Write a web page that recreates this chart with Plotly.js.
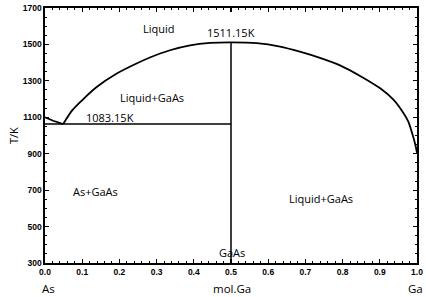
<!DOCTYPE html>
<html>
<head>
<meta charset="utf-8">
<script src="https://cdn.plot.ly/plotly-3.0.1.min.js"></script>
<style>html,body{margin:0;padding:0;background:#fff;}#chart{width:426px;height:297px;}</style>
</head>
<body>
<div id="chart"></div>
<script>
// As-rich liquidus branch (from x=0 to the eutectic)
var asSideX = [0, 0.022, 0.049];
var asSideT = [1100, 1081, 1063];
// Main GaAs liquidus
var liqX = [0.049, 0.072, 0.099, 0.139, 0.193, 0.246, 0.282, 0.336, 0.390, 0.444, 0.5, 0.569, 0.632, 0.685, 0.739, 0.793, 0.847, 0.901, 0.936, 0.963, 0.977, 0.988, 0.996, 1.0];
var liqT = [1063, 1135, 1192, 1266, 1340, 1395, 1428, 1468, 1495, 1508, 1511, 1507, 1488, 1460, 1426, 1385, 1327, 1259, 1198, 1125, 1075, 1005, 945, 905];
// GaAs compound line and eutectic line
var compX = [0.5, 0.5];
var compT = [300, 1511];
var eutX = [0, 0.5];
var eutT = [1063, 1063];

// Region labels
var labelText = ["Liquid", "1511.15K", "Liquid+GaAs", "1083.15K", "As+GaAs", "Liquid+GaAs", "GaAs"];
var labelX = [0.306, 0.501, 0.288, 0.175, 0.136, 0.741, 0.502];
var labelT = [1589, 1566, 1207, 1100, 692, 656, 355];

var lineStyle = {color: '#000', width: 1.8};
var traces = [
  {x: asSideX, y: asSideT, mode: 'lines', line: lineStyle, hoverinfo: 'skip'},
  {x: liqX, y: liqT, mode: 'lines', line: Object.assign({shape: 'spline', smoothing: 0.8}, lineStyle), hoverinfo: 'skip'},
  {x: compX, y: compT, mode: 'lines', line: {color: '#000', width: 1.5}, hoverinfo: 'skip'},
  {x: eutX, y: eutT, mode: 'lines', line: {color: '#000', width: 1.5}, hoverinfo: 'skip'}
];

// plot area in pixels: x 45..417, y 8..263
function px2paperX(px) { return (px - 45) / 372; }
function px2paperY(py) { return (263 - py) / 255; }

var txtFont = {family: 'Open Sans, Noto Sans, sans-serif', size: 11, color: '#000'};
var annotations = labelText.map(function (t, i) {
  return {x: labelX[i], y: labelT[i], xref: 'x', yref: 'y', text: t, showarrow: false, font: txtFont};
});
var outFont = {family: 'Open Sans, sans-serif', size: 11.5, color: '#000'};
function outLabel(txt, px, py) {
  return {x: px2paperX(px), y: px2paperY(py), xref: 'paper', yref: 'paper', text: txt, showarrow: false,
          font: outFont, xanchor: 'center', yanchor: 'middle', borderpad: 0};
}
annotations.push(outLabel('As', 48.5, 288));
annotations.push(outLabel('mol.Ga', 231.5, 288));
annotations.push(outLabel('Ga', 415, 288));
annotations.push({x: px2paperX(13), y: px2paperY(136), xref: 'paper', yref: 'paper', text: 'T/K', textangle: -90, showarrow: false, font: {family: 'Open Sans, sans-serif', size: 11, color: '#000'}, xanchor: 'center', yanchor: 'middle', borderpad: 0});

var tickFont = {family: 'Liberation Sans, Arial, sans-serif', size: 8.5, color: '#000', weight: 'bold'};
var layout = {
  width: 426, height: 297,
  margin: {l: 45, r: 9, t: 8, b: 34},
  paper_bgcolor: '#fff', plot_bgcolor: '#fff',
  showlegend: false,
  xaxis: {
    range: [0, 1], dtick: 0.1, tick0: 0, tickformat: '.1f',
    ticks: 'inside', ticklen: 4, tickwidth: 1.2, tickcolor: '#000',
    minor: {dtick: 0.02, ticks: 'inside', ticklen: 2, tickwidth: 1, tickcolor: '#000'},
    showline: true, linecolor: '#000', linewidth: 1.6, mirror: 'allticks',
    showgrid: false, zeroline: false, tickfont: tickFont, fixedrange: true
  },
  yaxis: {
    range: [300, 1700], dtick: 200, tick0: 300,
    ticks: 'inside', ticklen: 4, tickwidth: 1.2, tickcolor: '#000',
    minor: {dtick: 50, ticks: 'inside', ticklen: 2, tickwidth: 1, tickcolor: '#000'},
    showline: true, linecolor: '#000', linewidth: 1.6, mirror: 'allticks',
    showgrid: false, zeroline: false, tickfont: tickFont, fixedrange: true
  },
  annotations: annotations
};
Plotly.newPlot('chart', traces, layout, {staticPlot: true, displayModeBar: false});
</script>
</body>
</html>
